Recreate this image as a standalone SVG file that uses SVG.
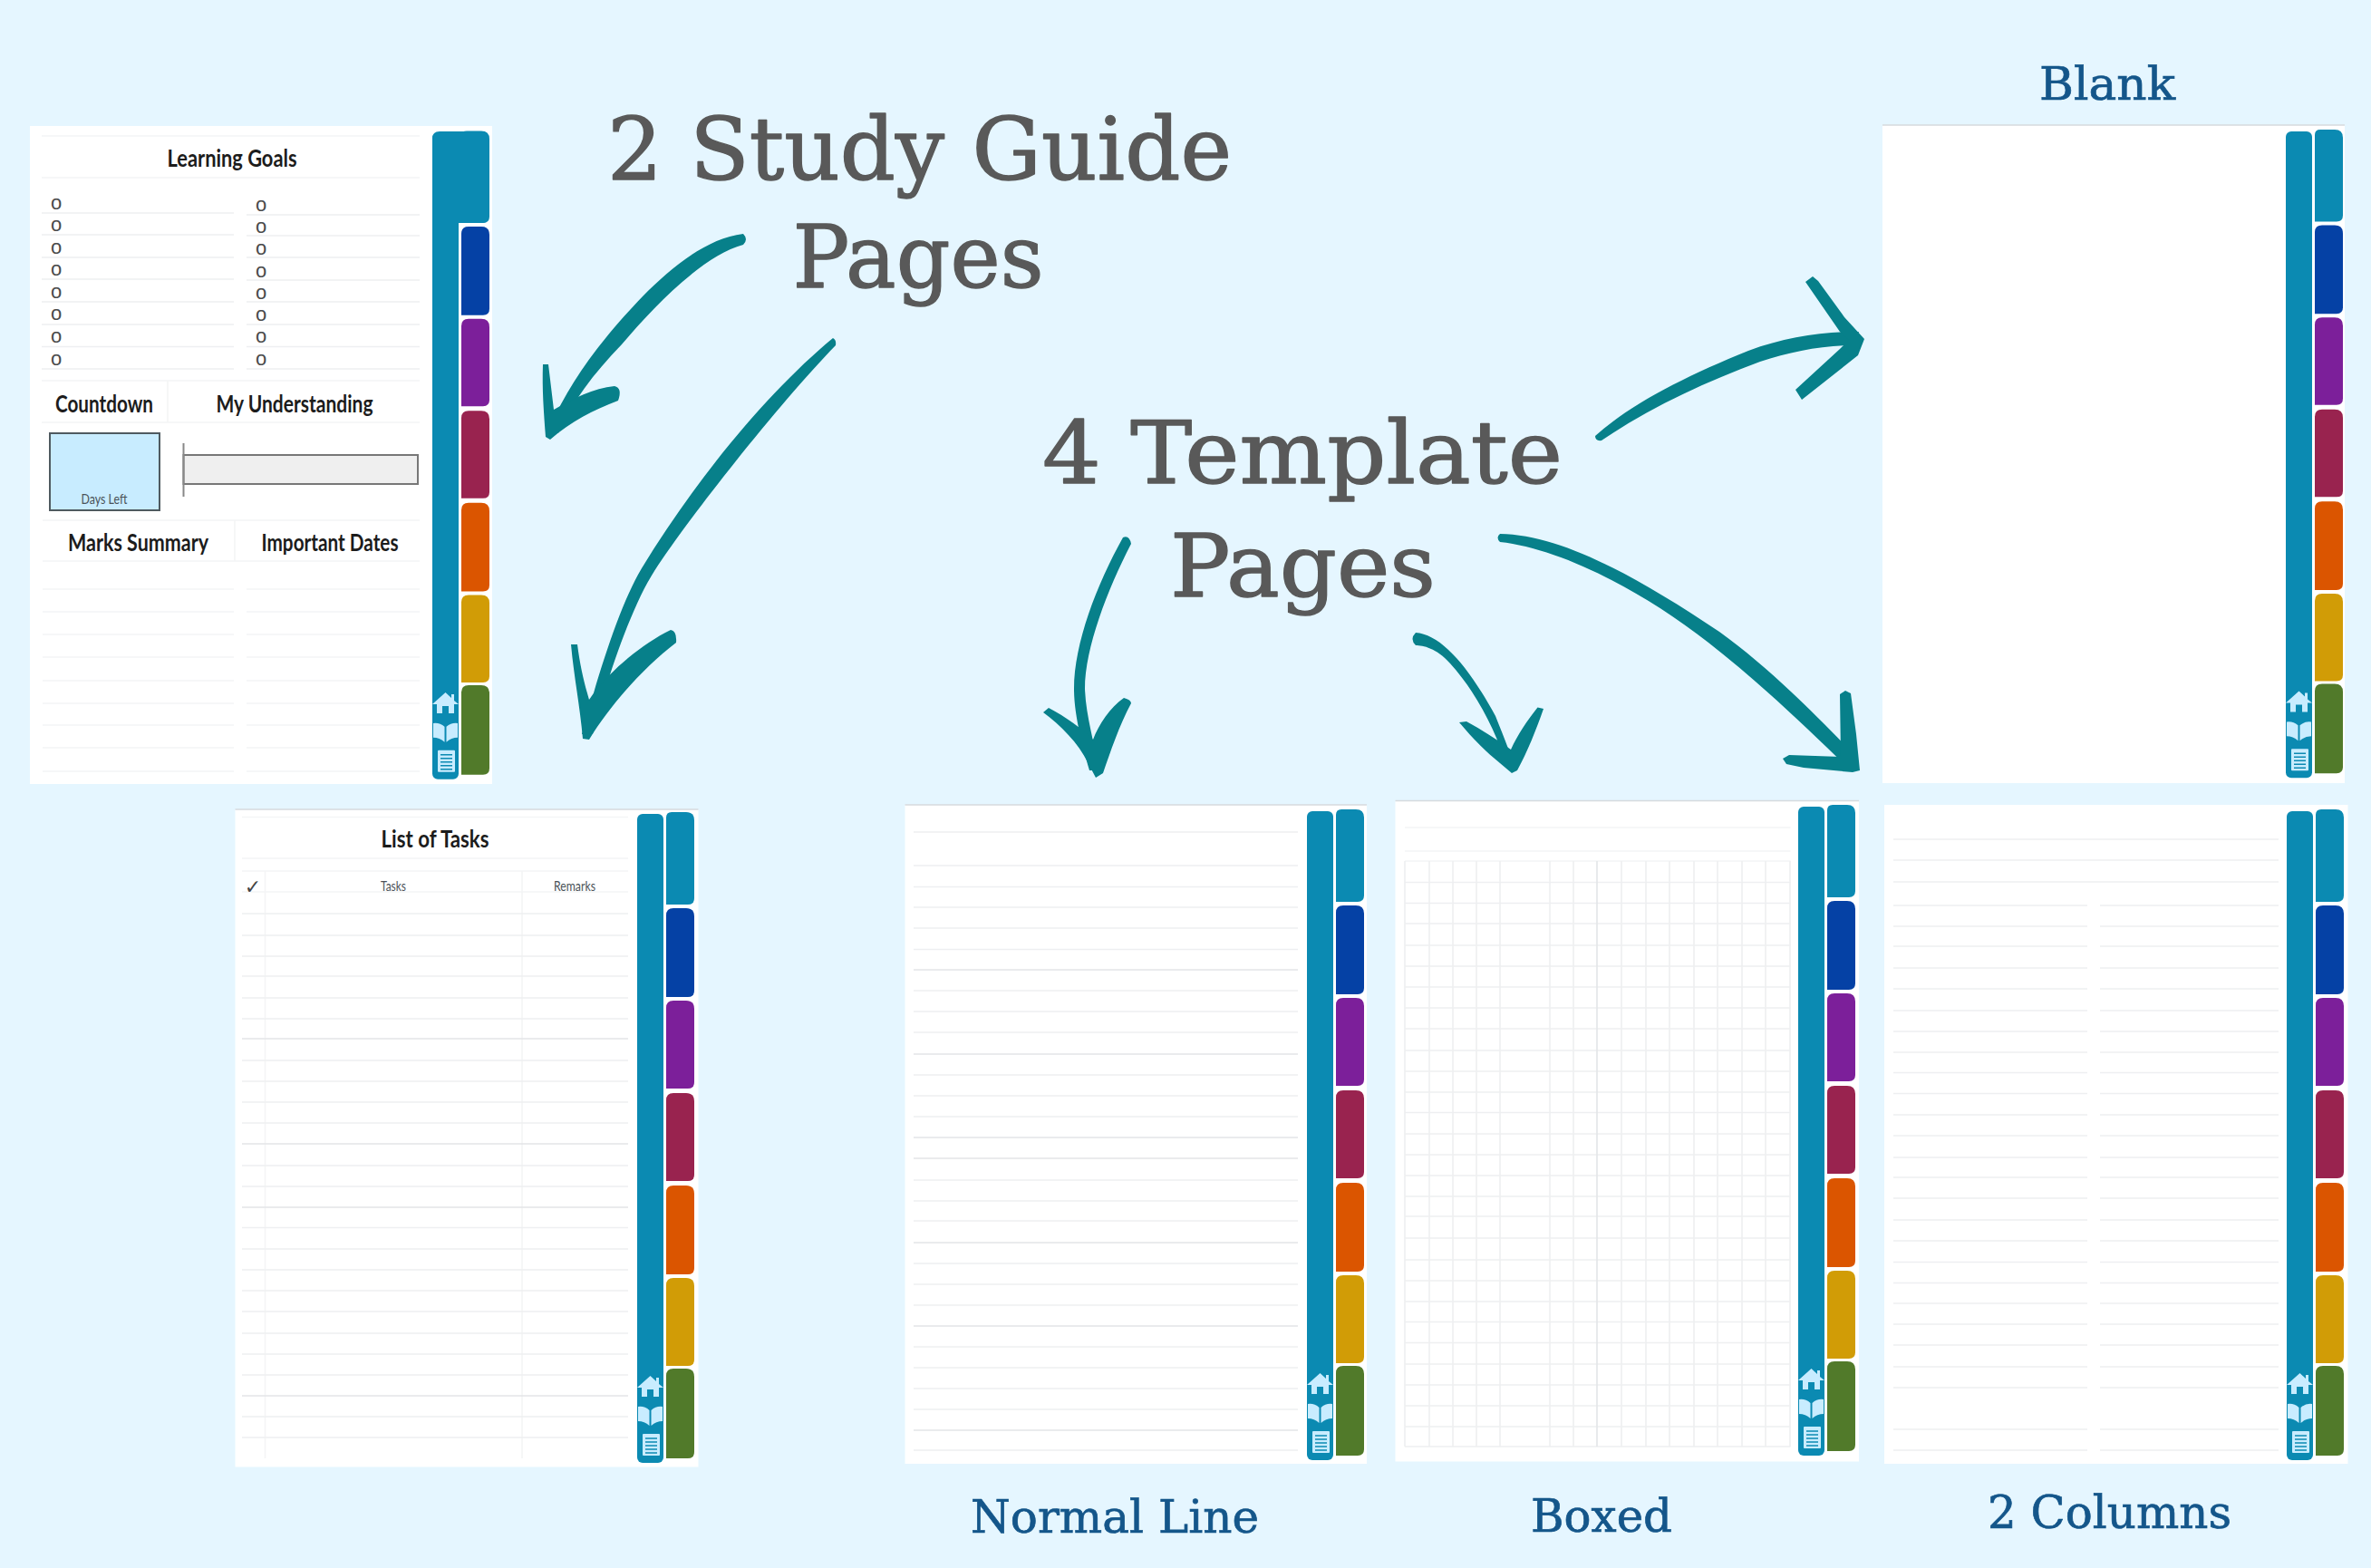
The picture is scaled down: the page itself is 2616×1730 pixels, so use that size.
<svg xmlns="http://www.w3.org/2000/svg" xmlns:xlink="http://www.w3.org/1999/xlink" width="2616" height="1730" viewBox="0 0 2616 1730">
<style>
.page{fill:#fff}
.edge{stroke:#d6dade;stroke-width:1.5;fill:none}
.rule{stroke:#eeeff1;stroke-width:1.6;fill:none}
.rule2{stroke:#e3e5e8;stroke-width:1.6;fill:none}
.faint{stroke:#f4f5f6;stroke-width:1.6;fill:none}
.arrow{fill:#07808a}
.title{font-family:"DejaVu Serif","Liberation Serif",serif;fill:#595959;stroke:#595959;stroke-width:1.4;stroke-linejoin:round;font-size:96px;text-anchor:middle}
.cap{font-family:"DejaVu Serif","Liberation Serif",serif;fill:#14568a;stroke:#14568a;stroke-width:.7;font-size:50px;text-anchor:middle}
.hand{font-family:"Lato","Liberation Sans",sans-serif;fill:#1c1c1c;font-size:27px;font-weight:700;text-anchor:middle}
.small{font-family:"Lato","Liberation Sans",sans-serif;fill:#4a5258;font-size:15px;text-anchor:middle}
.bul{font-family:"Liberation Sans",sans-serif;fill:#4a4a4a;font-size:22px;text-anchor:middle}
.ico{fill:#c8ecff}
</style>
<defs>
<g id="sidebar">
<rect x="-32" y="2" width="29" height="716" rx="6" fill="#0b8ab2"/>
<path d="M0 6Q0 0 6 0H22Q31 0 31 9V95Q31 102 24 102H0Z" fill="#0b8ab2"/>
<path d="M0 114Q0 106 8 106H22Q31 106 31 115V197Q31 204 24 204H0Z" fill="#0541a5"/>
<path d="M0 216Q0 208 8 208H22Q31 208 31 217V298Q31 305 24 305H0Z" fill="#7c1f9a"/>
<path d="M0 318Q0 310 8 310H22Q31 310 31 319V400Q31 407 24 407H0Z" fill="#99234f"/>
<path d="M0 420Q0 412 8 412H22Q31 412 31 421V503Q31 510 24 510H0Z" fill="#db5500"/>
<path d="M0 522Q0 514 8 514H22Q31 514 31 523V604Q31 611 24 611H0Z" fill="#d19c06"/>
<path d="M0 622Q0 614 8 614H22Q31 614 31 623V706Q31 713 24 713H0Z" fill="#517a2a"/>
<path class="ico" d="M-17.500 622L-11 628V624H-8V631L-3 635H-8V645H-14V637H-21V645H-27V635H-32Z"/>
<path class="ico" d="M-31 656Q-24 655-18.500 660V677Q-24 672-31 672ZM-16.500 660Q-11 655-4 656V672Q-11 672-16.500 677Z"/>
<rect class="ico" x="-26" y="686" width="19" height="24" rx="1"/>
<path d="M-23 691H-10M-23 695H-10M-23 699H-10M-23 703H-10M-23 707H-10" stroke="#0b8ab2" stroke-width="1.600" fill="none"/>
</g>
</defs>
<rect width="2616" height="1730" fill="#e5f6ff"/>

<g id="page-study-guide">
<rect class="page" x="33" y="139" width="510" height="726"/>
<path class="faint" d="M46 150H463M46 196H463"/>
<path class="rule" d="M46 235H258M46 259H258M46 284H258M46 308H258M46 333H258M46 358H258M46 382.500H258M46 407H258M272 237H463M272 260H463M272 284H463M272 309H463M272 333H463M272 358H463M272 382.500H463M272 407H463"/>
<path class="faint" d="M46 420H463M46 466H463M185 420V466M47 574H463M47 619H463M259 574V619"/>
<path class="faint" d="M47 650H258M47 675H258M47 700H258M47 725H258M47 751H258M47 776H258M47 800H258M47 825H258M47 851H258M272 650H463M272 675H463M272 700H463M272 725H463M272 751H463M272 776H463M272 800H463M272 825H463M272 851H463"/>
<text class="hand" x="256" y="184" textLength="143" lengthAdjust="spacingAndGlyphs">Learning Goals</text>
<text class="bul" x="62" y="231">o</text><text class="bul" x="62" y="255">o</text><text class="bul" x="62" y="280">o</text><text class="bul" x="62" y="304">o</text><text class="bul" x="62" y="329">o</text><text class="bul" x="62" y="353">o</text><text class="bul" x="62" y="378">o</text><text class="bul" x="62" y="403">o</text>
<text class="bul" x="288" y="233">o</text><text class="bul" x="288" y="257">o</text><text class="bul" x="288" y="281">o</text><text class="bul" x="288" y="306">o</text><text class="bul" x="288" y="330">o</text><text class="bul" x="288" y="354">o</text><text class="bul" x="288" y="378">o</text><text class="bul" x="288" y="403">o</text>
<text class="hand" x="115" y="455" textLength="108" lengthAdjust="spacingAndGlyphs">Countdown</text>
<text class="hand" x="325" y="455" textLength="173" lengthAdjust="spacingAndGlyphs">My Understanding</text>
<rect x="55" y="478" width="121" height="85" fill="#c8ecff" stroke="#4f5a60" stroke-width="2"/>
<text class="small" x="115" y="556" textLength="51" lengthAdjust="spacingAndGlyphs">Days Left</text>
<rect x="202.500" y="502" width="258.500" height="32" fill="#efefef" stroke="#777" stroke-width="2"/>
<path d="M202.500 489V548" stroke="#888" stroke-width="2"/>
<text class="hand" x="152.500" y="608" textLength="155" lengthAdjust="spacingAndGlyphs">Marks Summary</text>
<text class="hand" x="364" y="608" textLength="151" lengthAdjust="spacingAndGlyphs">Important Dates</text>
<use href="#sidebar" transform="translate(509 144.500) scale(1 .996)"/>
<path d="M477 153Q477 145 485 145H530Q539 145 539 154V239Q539 246 532 246H505V260H477Z" fill="#0b8ab2"/>
</g>

<g id="page-list-of-tasks">
<rect class="page" x="259.500" y="893" width="511" height="725.500"/>
<path class="edge" d="M259.500 893H770.500"/>
<path class="faint" d="M267 901.500H693M267 947H693M267 961H693M267 984H693M292.500 961V1609M576 961V1609"/>
<path class="rule" d="M267 1008H693M267 1032H693M267 1055H693M267 1077H693M267 1101H693M267 1124H693M267 1170H693M267 1193H693M267 1216H693M267 1239H693M267 1286H693M267 1309H693M267 1354.500H693M267 1378H693M267 1401H693M267 1424H693M267 1447H693M267 1471H693M267 1494H693M267 1517H693M267 1563H693M267 1586H693"/>
<path class="rule2" d="M267 1146H693M267 1262H693M267 1332H693M267 1540H693"/>
<text class="hand" x="480" y="935" textLength="119" lengthAdjust="spacingAndGlyphs">List of Tasks</text>
<text x="279" y="986" font-family="DejaVu Sans" font-size="22" fill="#444" text-anchor="middle">✓</text>
<text class="small" x="434" y="983" textLength="28" lengthAdjust="spacingAndGlyphs">Tasks</text>
<text class="small" x="634" y="983" textLength="46" lengthAdjust="spacingAndGlyphs">Remarks</text>
<use href="#sidebar" x="735" y="896"/>
</g>

<g id="page-normal-line">
<rect class="page" x="998.500" y="888" width="509.500" height="727"/>
<path class="edge" d="M998.500 888H1508"/>
<path class="rule" d="M1008 918H1432M1008 955H1432M1008 978.500H1432M1008 1001H1432M1008 1024H1432M1008 1047.500H1432M1008 1093H1432M1008 1116H1432M1008 1139H1432M1008 1186H1432M1008 1209H1432M1008 1232H1432M1008 1302H1432M1008 1325H1432M1008 1347H1432M1008 1394H1432M1008 1417H1432M1008 1440H1432M1008 1486H1432M1008 1509H1432M1008 1532H1432M1008 1555H1432M1008 1600H1432"/>
<path class="rule2" d="M1008 1070H1432M1008 1163H1432M1008 1255H1432M1008 1278H1432M1008 1371H1432M1008 1463H1432M1008 1578H1432"/>
<use href="#sidebar" x="1474" y="893"/>
</g>

<g id="page-boxed">
<rect class="page" x="1539.500" y="883.500" width="511.500" height="729"/>
<path class="edge" d="M1539.500 883.500H2051"/>
<path class="faint" d="M1550 913H1975.500M1550 939H1975.500M1550 950H1975.500"/>
<path class="rule" d="M1550 973.500H1975.500M1550 996.500H1975.500M1550 1019H1975.500M1550 1043H1975.500M1550 1066H1975.500M1550 1089H1975.500M1550 1112H1975.500M1550 1135H1975.500M1550 1159H1975.500M1550 1182H1975.500M1550 1205H1975.500M1550 1227.500H1975.500M1550 1251H1975.500M1550 1274H1975.500M1550 1297H1975.500M1550 1320H1975.500M1550 1342H1975.500M1550 1366H1975.500M1550 1390H1975.500M1550 1413H1975.500M1550 1436H1975.500M1550 1458.500H1975.500M1550 1481.500H1975.500M1550 1505H1975.500M1550 1528H1975.500M1550 1551H1975.500M1550 1574H1975.500M1550 1596H1975.500"/>
<path class="rule" d="M1550 950V1596M1577 950V1596M1603 950V1596M1629 950V1596M1655 950V1596M1710 950V1596M1736 950V1596M1789 950V1596M1816 950V1596M1842 950V1596M1869 950V1596M1895 950V1596M1922 950V1596M1948 950V1596M1975 950V1596"/>
<path class="rule2" d="M1762 950V1596"/>
<use href="#sidebar" x="2016" y="888"/>
</g>

<g id="page-two-columns">
<rect class="page" x="2079" y="888" width="511.500" height="727"/>
<path class="rule" d="M2089 926H2514M2089 949H2514M2089 973H2514"/>
<path class="rule" d="M2089 999H2303M2089 1022H2303M2089 1044H2303M2089 1068H2303M2089 1091H2303M2089 1115H2303M2089 1138H2303M2089 1161H2303M2089 1183.500H2303M2089 1206.500H2303M2089 1230H2303M2089 1253H2303M2089 1277H2303M2089 1299H2303M2089 1322H2303M2089 1346H2303M2089 1369H2303M2089 1392.500H2303M2089 1415.500H2303M2089 1438H2303M2089 1461H2303M2089 1484H2303M2089 1508H2303M2089 1531H2303M2089 1577H2303M2089 1600H2303"/>
<path class="rule" d="M2317 999H2514M2317 1022H2514M2317 1044H2514M2317 1068H2514M2317 1091H2514M2317 1115H2514M2317 1138H2514M2317 1161H2514M2317 1183.500H2514M2317 1206.500H2514M2317 1230H2514M2317 1253H2514M2317 1277H2514M2317 1299H2514M2317 1322H2514M2317 1346H2514M2317 1369H2514M2317 1392.500H2514M2317 1415.500H2514M2317 1438H2514M2317 1461H2514M2317 1484H2514M2317 1508H2514M2317 1531H2514M2317 1577H2514M2317 1600H2514"/>
<use href="#sidebar" x="2555" y="893"/>
</g>

<g id="page-blank">
<rect class="page" x="2077" y="138" width="510" height="726"/>
<path class="edge" d="M2077 138H2587"/>
<use href="#sidebar" transform="translate(2554 143) scale(1 .996)"/>
</g>

<g id="connectors">
<path class="arrow" d="M820 258C760 265 700 335 669 372C642 405 622 437 607 470L616 478C630 445 655 412 686 380C720 340 775 282 820 270Q826 264 820 258Z"/>
<path class="arrow" d="M599 402L605 402L611 452C632 440 655 428 678 426Q687 428 682 442C655 452 630 465 607 485L602 482C600 455 598 430 599 402Z"/>
<path class="arrow" d="M919 373C850 430 770 525 708 627C683 669 660 745 642 810L654 810C668 755 695 672 722 630C760 571 860 445 922 381Q923 375 919 373Z"/>
<path class="arrow" d="M630 711L637 711C640 735 645 755 650 772C668 745 705 712 740 695Q747 696 746 709C712 735 675 775 650 816L643 815C640 780 633 745 630 711Z"/>
<path class="arrow" d="M1239 593C1210 645 1185 710 1185 760C1185 790 1195 825 1202 850L1212 850C1208 820 1198 790 1197 760C1197 715 1222 650 1248 600Q1246 590 1239 593Z"/>
<path class="arrow" d="M1151 786L1157 781C1175 790 1195 805 1206 816C1212 800 1225 780 1240 770Q1248 772 1248 776C1235 800 1225 830 1217 853L1209 858L1200 841C1190 820 1170 800 1151 786Z"/>
<path class="arrow" d="M1562 698C1590 700 1620 735 1650 790C1660 815 1668 835 1672 850L1662 845C1652 810 1630 765 1600 732C1585 715 1570 712 1562 712Q1555 705 1562 698Z"/>
<path class="arrow" d="M1610 797L1618 796C1635 805 1650 815 1667 827C1675 810 1685 795 1696.500 780.600L1703 782C1695 805 1685 830 1674 850L1668 853L1655 842C1640 830 1625 815 1610 797Z"/>
<path class="arrow" d="M1655 589C1720 590 1800 632 1897 697C1950 735 2005 790 2044 831L2038 846C2000 810 1950 760 1885 709C1810 650 1720 605 1655 598Q1650 593 1655 589Z"/>
<path class="arrow" d="M2030 766L2036 762L2042 765L2048 810L2052 850L2044 852L1990 847L1971 843L1967 837L1974 833L2031 835Z"/>
<path class="arrow" d="M1760 481C1800 445 1860 415 1929 387C1970 372 2010 366 2051 366L2044 381C2010 381 1975 388 1942 399C1880 422 1820 450 1767 486Q1760 487 1760 481Z"/>
<path class="arrow" d="M1992 311L2000 305L2006 310L2035 350L2057 374L2050 392L1988 441L1981 430L2030 385L2040 375L2030 366Z"/>
</g>

<g id="headings">
<text class="title" x="1014.500" y="198" textLength="689" lengthAdjust="spacingAndGlyphs">2 Study Guide</text>
<text class="title" x="1013" y="317" textLength="277" lengthAdjust="spacingAndGlyphs">Pages</text>
<text class="title" x="1437" y="533" textLength="574" lengthAdjust="spacingAndGlyphs">4 Template</text>
<text class="title" x="1437.500" y="658" textLength="293" lengthAdjust="spacingAndGlyphs">Pages</text>
<text class="cap" x="2325" y="110" textLength="150" lengthAdjust="spacingAndGlyphs">Blank</text>
<text class="cap" x="1230" y="1691" textLength="318" lengthAdjust="spacingAndGlyphs">Normal Line</text>
<text class="cap" x="1767" y="1690" textLength="156" lengthAdjust="spacingAndGlyphs">Boxed</text>
<text class="cap" x="2327.500" y="1686" textLength="269" lengthAdjust="spacingAndGlyphs">2 Columns</text>
</g>
</svg>
